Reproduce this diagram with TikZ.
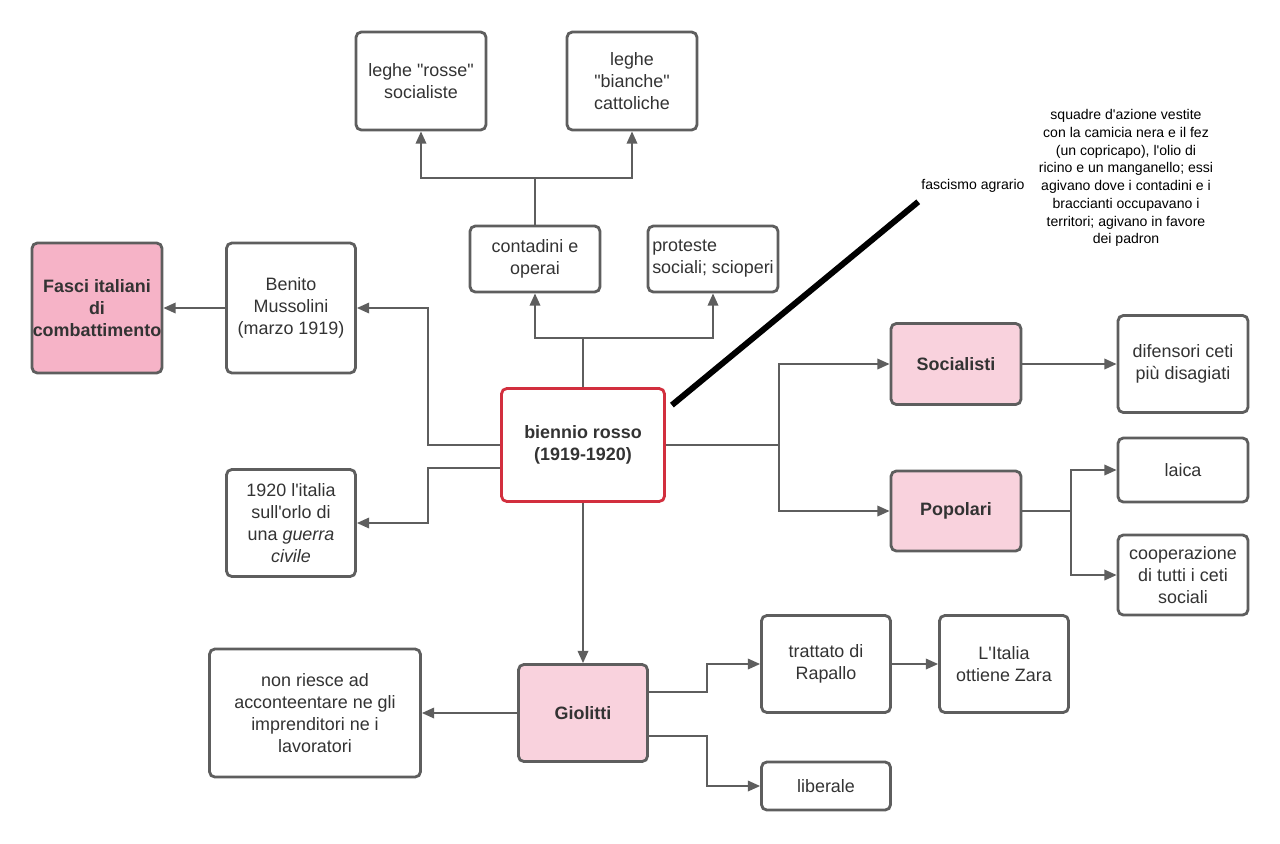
\documentclass[tikz,border=0pt]{standalone}
\usepackage{fontspec}
\newfontfamily\lucid{Liberation Sans}
\usetikzlibrary{arrows.meta,calc}
\definecolor{linegray}{HTML}{5E5E5E}
\definecolor{txtgray}{HTML}{333333}
\definecolor{pinklight}{HTML}{F9D2DD}
\definecolor{pinkdark}{HTML}{F6B3C7}
\definecolor{redborder}{HTML}{D22F3E}
\begin{document}
\begin{tikzpicture}[x=0.02cm,y=-0.02cm,
		box/.style={draw=linegray,line width=1.6pt,rounded corners=3pt,fill=white,align=center,
			text=txtgray,font=\lucid\fontsize{10.2}{12.5}\selectfont,inner sep=2pt},
		boldbox/.style={box,font=\lucid\bfseries\fontsize{10.2}{12.5}\selectfont},
		arr/.style={draw=linegray,line width=1.1pt,-{Triangle[length=7pt,width=6pt]}},
		ln/.style={draw=linegray,line width=1.1pt}]
		\useasboundingbox (0,0) rectangle (1280,843);
		% top
		\node[box,minimum width=2.6cm,minimum height=1.96cm] (rosse) at (421,81) {leghe "rosse"\\socialiste};
		\node[box,minimum width=2.6cm,minimum height=1.96cm] (bianche) at (632,81) {leghe\\"bianche"\\cattoliche};
		\node[box,minimum width=2.6cm,minimum height=1.32cm] (contadini) at (535,259) {contadini e\\operai};
		\node[box,minimum width=2.6cm,minimum height=1.32cm,align=left] (proteste) at (713,259) {proteste\\sociali; scioperi};
		\node[font=\lucid\fontsize{8}{10}\selectfont] (fascismo) at (973,186) {fascismo agrario};
		\node[font=\lucid\fontsize{8}{10.1}\selectfont,align=center] (squadre) at (1126,178) {squadre d'azione vestite\\con la camicia nera e il fez\\(un copricapo), l'olio di\\ricino e un manganello; essi\\agivano dove i contadini e i\\braccianti occupavano i\\territori; agivano in favore\\dei padron};
		% left
		\node[boldbox,fill=pinkdark,inner sep=0pt,minimum width=2.6cm,minimum height=2.6cm] (fasci) at (97,308) {Fasci italiani\\di\\combattimento};
		\node[box,minimum width=2.58cm,minimum height=2.6cm] (mussolini) at (291,308) {Benito\\Mussolini\\(marzo 1919)};
		\node[box,minimum width=2.58cm,minimum height=2.14cm] (guerra) at (291,523) {1920 l'italia\\sull'orlo di\\una \textit{guerra}\\\textit{civile}};
		% centre
		\node[boldbox,draw=redborder,minimum width=3.26cm,minimum height=2.26cm] (biennio) at (583,445) {biennio rosso\\(1919-1920)};
		% right
		\node[boldbox,fill=pinklight,minimum width=2.6cm,minimum height=1.62cm] (socialisti) at (956,364) {Socialisti};
		\node[box,minimum width=2.6cm,minimum height=1.94cm] (difensori) at (1183,364) {difensori ceti\\più disagiati};
		\node[boldbox,fill=pinklight,minimum width=2.6cm,minimum height=1.6cm] (popolari) at (956,511) {Popolari};
		\node[box,minimum width=2.6cm,minimum height=1.28cm] (laica) at (1183,470) {laica};
		\node[box,minimum width=2.6cm,minimum height=1.6cm] (coop) at (1183,575) {cooperazione\\di tutti i ceti\\sociali};
		% bottom
		\node[boldbox,fill=pinklight,minimum width=2.58cm,minimum height=1.94cm] (giolitti) at (583,713) {Giolitti};
		\node[box,minimum width=4.22cm,minimum height=2.56cm] (nonriesce) at (315,713) {non riesce ad\\acconteentare ne gli\\imprenditori ne i\\lavoratori};
		\node[box,minimum width=2.58cm,minimum height=1.94cm] (rapallo) at (826,664) {trattato di\\Rapallo};
		\node[box,minimum width=2.58cm,minimum height=1.94cm] (zara) at (1004,664) {L'Italia\\ottiene Zara};
		\node[box,minimum width=2.58cm,minimum height=0.96cm] (liberale) at (826,786) {liberale};
		% connectors
		\coordinate (hubtop) at ($(biennio.north)+(0,-49)$);
		\draw[ln] (biennio.north) -- (hubtop);
		\draw[arr] (hubtop) -| (contadini.south);
		\draw[arr] (hubtop) -| (proteste.south);
		\coordinate (hubleghe) at ($(contadini.north)+(0,-47)$);
		\draw[ln] (contadini.north) -- (hubleghe);
		\draw[arr] (hubleghe) -| (rosse.south);
		\draw[arr] (hubleghe) -| (bianche.south);
		\draw[arr] (biennio.west) -- ++(-72,0) |- (mussolini.east);
		\draw[arr] ($(biennio.west)+(0,23)$) -- ++(-72,0) |- (guerra.east);
		\draw[arr] (mussolini.west) -- (fasci.east);
		\coordinate (hubright) at ($(biennio.east)+(113,0)$);
		\draw[ln] (biennio.east) -- (hubright);
		\draw[arr] (hubright) |- (socialisti.west);
		\draw[arr] (hubright) |- (popolari.west);
		\draw[arr] (socialisti.east) -- (difensori.west);
		\coordinate (hubpop) at ($(popolari.east)+(49,0)$);
		\draw[ln] (popolari.east) -- (hubpop);
		\draw[arr] (hubpop) |- (laica.west);
		\draw[arr] (hubpop) |- (coop.west);
		\draw[arr] (biennio.south) -- (giolitti.north);
		\draw[arr] (giolitti.west) -- (nonriesce.east);
		\draw[arr] ($(giolitti.east)+(0,-21)$) -- ++(58,0) |- (rapallo.west);
		\draw[arr] ($(giolitti.east)+(0,23)$) -- ++(58,0) |- (liberale.west);
		\draw[arr] (rapallo.east) -- (zara.west);
		\coordinate (fa1) at ($(biennio.north east)+(6,18)$);
		\coordinate (fa2) at ($(fascismo.south west)+(3,3)$);
		\draw[line width=3.4pt] (fa1) -- (fa2);
\end{tikzpicture}
\end{document}
